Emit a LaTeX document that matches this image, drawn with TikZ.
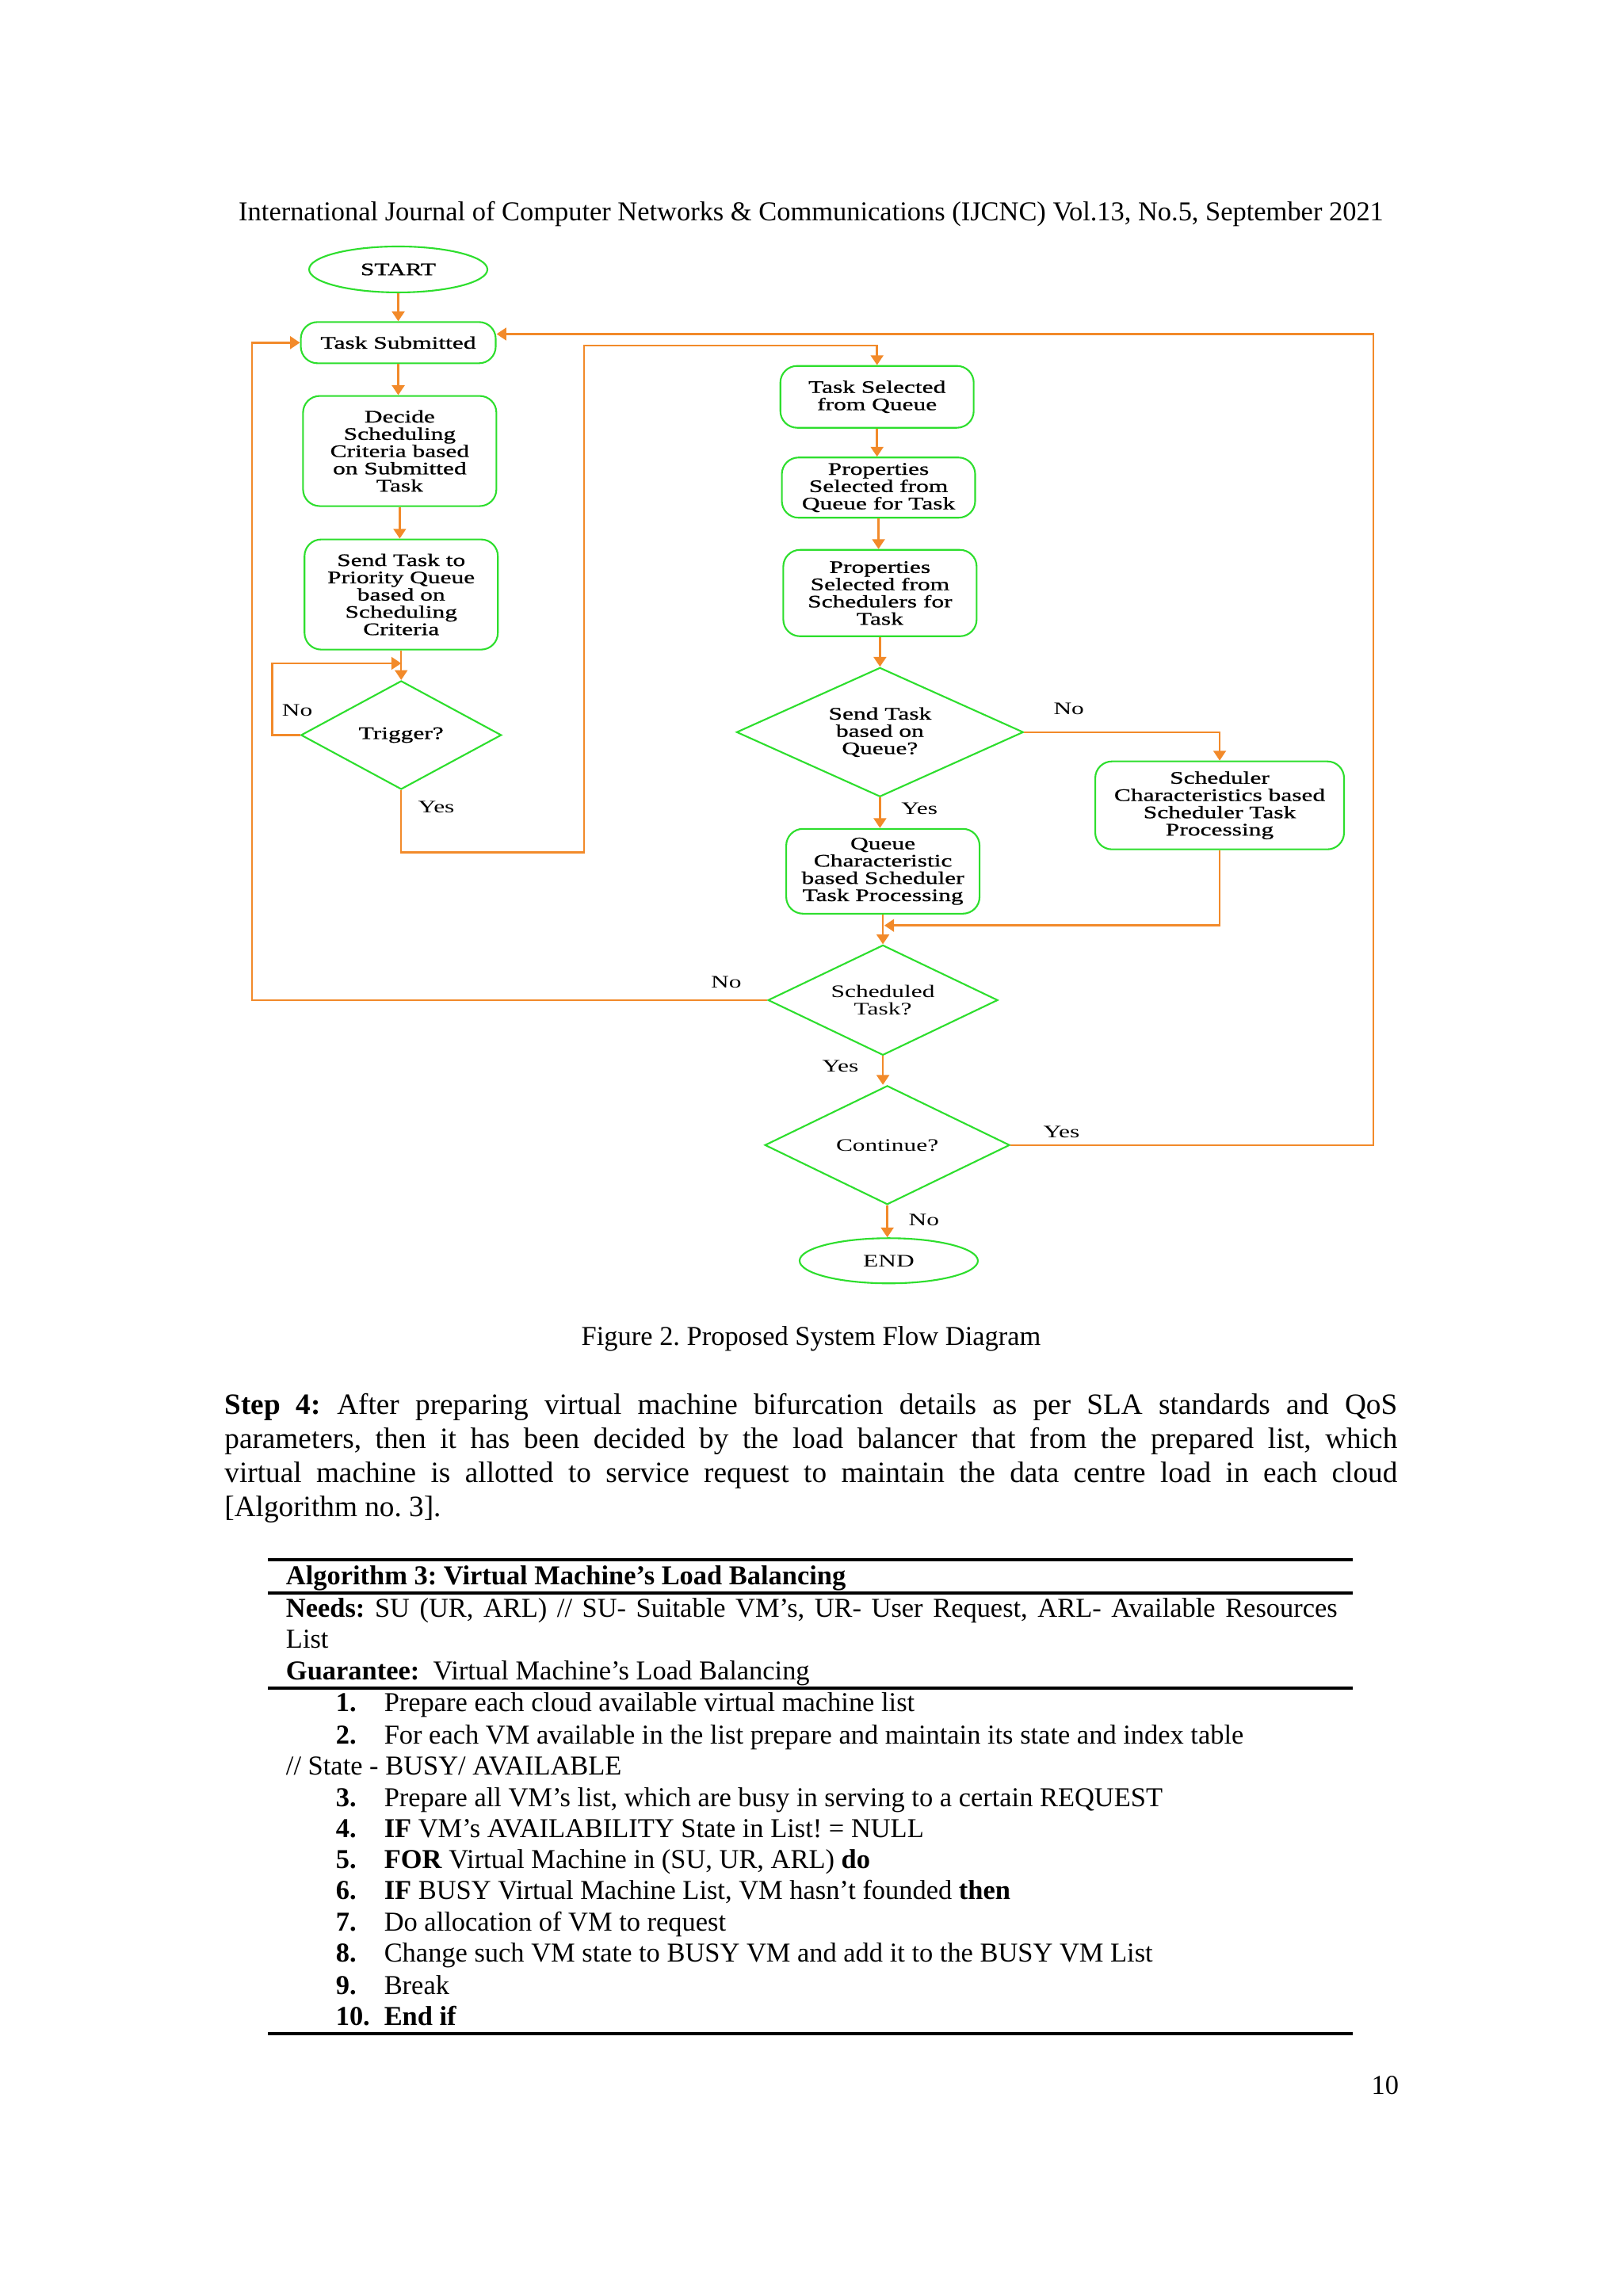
\documentclass[tikz,border=0pt]{standalone}
\usepackage{fontspec}
\setmainfont{Liberation Serif}
\newfontfamily\chartfont{Liberation Serif}[FakeStretch=1.42, FakeBold=0.9]
\newfontfamily\labelfont{Liberation Serif}[FakeStretch=1.42]
\usetikzlibrary{arrows.meta, shapes.geometric}
\definecolor{boxgreen}{RGB}{45,222,45}
\definecolor{lineorange}{RGB}{242,138,42}

\begin{document}
\frenchspacing
\begin{tikzpicture}[x=0.01848cm, y=-0.01848cm,
	every node/.style={inner sep=0pt},
	chart/.style={font=\chartfont\fontsize{6.3}{6.2}\selectfont},
	plainchart/.style={font=\labelfont\fontsize{6.3}{6.4}\selectfont},
	termnode/.style={chart, draw=boxgreen, line width=0.6pt, ellipse, minimum width=2.25cm, minimum height=0.58cm},
	procbox/.style={chart, draw=boxgreen, line width=0.6pt, rounded corners=6pt, align=center, minimum width=2.44cm},
	decision/.style={chart, draw=boxgreen, line width=0.6pt, diamond, aspect=2.2, align=center},
	flowline/.style={draw=lineorange, line width=0.7pt, -{Triangle[width=4.5pt,length=3.5pt]}},
	lbl/.style={plainchart},
	bodytext/.style={font=\fontsize{9.8}{12.3}\selectfont},
	algtext/.style={font=\fontsize{9.8}{11.2}\selectfont, anchor=base west}]
	
	\fill[white] (0,0) rectangle (1108,1568);
	\useasboundingbox (0,0) rectangle (1108,1568);
	
	% page header
	\node[bodytext, anchor=base] (header) at (554,151)
	{International Journal of Computer Networks \& Communications (IJCNC) Vol.13, No.5, September 2021};
	
	% left column
	\node[termnode] (start) at (272,184) {START};
	\node[procbox, minimum height=0.52cm, minimum width=2.46cm] (submit) at (272,234) {Task Submitted};
	\node[procbox, minimum height=1.39cm] (decide) at (273,308)
	{Decide\\Scheduling\\Criteria based\\on Submitted\\Task};
	\node[procbox, minimum height=1.39cm] (sendpq) at (274,406)
	{Send Task to\\Priority Queue\\based on\\Scheduling\\Criteria};
	\node[decision, minimum width=2.53cm, minimum height=1.37cm] (trigger) at (274,502) {Trigger?};
	\coordinate (trigin) at (274,453);
	
	% right column
	\node[procbox, minimum height=0.78cm] (tasksel) at (599,271) {Task Selected\\from Queue};
	\node[procbox, minimum height=0.76cm] (propq) at (600,333)
	{Properties\\Selected from\\Queue for Task};
	\node[procbox, minimum height=1.09cm] (props) at (601,405)
	{Properties\\Selected from\\Schedulers for\\Task};
	\node[decision, minimum width=3.62cm, minimum height=1.63cm] (sendq) at (601,500)
	{Send Task\\based on\\Queue?};
	\node[procbox, minimum height=1.11cm, minimum width=3.14cm] (schedchar) at (833,550)
	{Scheduler\\Characteristics based\\Scheduler Task\\Processing};
	\node[procbox, minimum height=1.07cm] (queueproc) at (603,595)
	{Queue\\Characteristic\\based Scheduler\\Task Processing};
	\coordinate (merge) at (604,632);
	\node[decision, plainchart, minimum width=2.90cm, minimum height=1.39cm] (schedtask) at (603,683)
	{Scheduled\\Task?};
	\node[decision, plainchart, minimum width=3.09cm, minimum height=1.50cm] (cont) at (606,782) {Continue?};
	\node[termnode, plainchart, minimum height=0.57cm] (finish) at (607,861) {END};
	
	% connectors
	\draw[flowline] (start) -- (submit);
	\draw[flowline] (submit.south) -- (submit.south |- decide.north);
	\draw[flowline] (decide.south) -- (decide.south |- sendpq.north);
	\draw[flowline] (sendpq) -- (trigger);
	\draw[flowline] (trigger.west) -- ++(-19,0) |- (trigin);
	\draw[flowline] (trigger.south) |- (399,582) -- (399,236) -| (tasksel.north);
	\draw[flowline] (tasksel.south) -- (tasksel.south |- propq.north);
	\draw[flowline] (propq.south) -- (propq.south |- props.north);
	\draw[flowline] (props) -- (sendq);
	\draw[flowline] (sendq.east) -| (schedchar.north);
	\draw[flowline] (sendq.south) -- (sendq.south |- queueproc.north);
	\draw[flowline] (schedchar.south) |- (merge);
	\draw[flowline] (queueproc.south) -- (queueproc.south |- schedtask.north);
	\draw[flowline] (schedtask.west) -| (172,400) |- (submit.west);
	\draw[flowline] (schedtask.south) -- (schedtask.south |- cont.north);
	\draw[flowline] (cont.east) -| (938,400) |- (submit.5);
	\draw[flowline] (cont.south) -- (cont.south |- finish.north);
	
	\node[lbl] (noa) at (203,485) {No};
	\node[lbl] (yesa) at (298,551) {Yes};
	\node[lbl] (nob) at (730,484) {No};
	\node[lbl] (yesb) at (628,552) {Yes};
	\node[lbl] (noc) at (496,671) {No};
	\node[lbl] (yesc) at (574,728) {Yes};
	\node[lbl] (yesd) at (725,773) {Yes};
	\node[lbl] (nod) at (631,833) {No};
	
	% caption and text
	\node[bodytext, anchor=base] (caption) at (554,919) {Figure 2. Proposed System Flow Diagram};
	\node[bodytext, font=\fontsize{10.6}{12.3}\selectfont, anchor=north west, text width=14.8cm, align=justify] (stepfour) at (153,951)
	{\hyphenpenalty=10000 \textbf{Step 4:} After preparing virtual machine bifurcation details as per SLA standards and QoS\linebreak{}
		parameters, then it has been decided by the load balancer that from the prepared list, which\linebreak{}
		virtual machine is allotted to service request to maintain the data centre load in each cloud\linebreak{}
		[Algorithm no. 3].};
	
	% algorithm box
	\draw[line width=1.1pt] (183,1065) -- (924,1065);
	\draw[line width=1.1pt] (183,1088) -- (924,1088);
	\draw[line width=1.1pt] (183,1153) -- (924,1153);
	\draw[line width=1.1pt] (183,1389) -- (924,1389);
	\node[algtext] (algtitle) at (195,1082) {\textbf{Algorithm 3: Virtual Machine’s Load Balancing}};
	\node[algtext, anchor=north west, text width=13.27cm, align=justify] (needs) at (195,1091)
	{\hyphenpenalty=10000 \textbf{Needs:} SU (UR, ARL) // SU- Suitable VM’s, UR- User Request, ARL- Available Resources\linebreak{} List};
	\node[algtext] (guarantee) at (195,1147) {\textbf{Guarantee:}\ \ Virtual Machine’s Load Balancing};
	\node[algtext] (statenote) at (195,1212) {// State - BUSY/ AVAILABLE};
	\foreach \n/\y/\t in {1/1169/{Prepare each cloud available virtual machine list},
		2/1191/{For each VM available in the list prepare and maintain its state and index table},
		3/1234/{Prepare all VM’s list, which are busy in serving to a certain REQUEST},
		4/1255/{\textbf{IF} VM’s AVAILABILITY State in List! = NULL},
		5/1276/{\textbf{FOR} Virtual Machine in (SU, UR, ARL) \textbf{do}},
		6/1297/{\textbf{IF} BUSY Virtual Machine List, VM hasn’t founded \textbf{then}},
		7/1319/{Do allocation of VM to request},
		8/1340/{Change such VM state to BUSY VM and add it to the BUSY VM List},
		9/1362/{Break},
		10/1383/{\textbf{End if}}}{
		\node[algtext] (num\n) at (229,\y) {\textbf{\n.}};
		\node[algtext] (step\n) at (262,\y) {\t};
	}
	
	% page number
	\node[bodytext, anchor=base] (pagenum) at (946,1430) {10};
	
\end{tikzpicture}
\end{document}
